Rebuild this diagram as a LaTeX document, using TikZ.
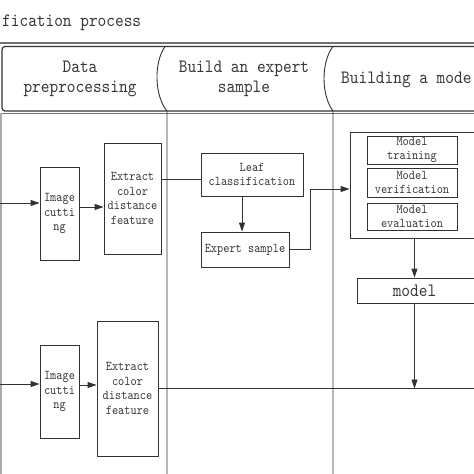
\documentclass[tikz,border=0pt]{standalone}
\usepackage{fontspec}
\usepackage{tikz}
\usetikzlibrary{arrows.meta, positioning, calc}
\newfontfamily\simfont{lmmono10-regular.otf}[FakeStretch=0.88]
\definecolor{linecolor}{RGB}{50, 50, 50}
\definecolor{framecolor}{RGB}{115, 115, 115}
\definecolor{textcolor}{RGB}{55, 55, 55}

\begin{document}
\begin{tikzpicture}[
    x=1pt, y=-1pt,
    stepbox/.style={draw=linecolor, line width=0.9pt, inner sep=0pt, align=center, text=textcolor, font=\simfont\fontsize{13.4}{14.8}\selectfont},
    substep/.style={stepbox, minimum width=90pt, font=\simfont\fontsize{13.4}{13.2}\selectfont},
    headtext/.style={inner sep=0pt, align=center, text=textcolor, font=\simfont\fontsize{18.8}{19.5}\selectfont},
    flow/.style={draw=linecolor, line width=0.9pt, -{Stealth[length=9pt, width=6pt, inset=0pt]}},
    link/.style={draw=linecolor, line width=0.9pt},
    lane/.style={draw=linecolor, line width=0.9pt}
]
    \useasboundingbox (0,0) rectangle (474,474);

    % Title and lane header
    \node[headtext, anchor=base west] (title) at (2,26.5) {fication process};
    \draw[framecolor, line width=2pt] (0,43) -- (474,43);
    \draw[linecolor, line width=1.2pt, rounded corners=3pt] (480,46.5) -- (2,46.5) -- (2,111) -- (480,111);
    \draw[framecolor, line width=1.2pt] (0,113.5) -- (474,113.5);
    \draw[framecolor!60, line width=2pt] (1,113) -- (1,474);

    % Lane borders
    \draw[lane] (165,46.5) .. controls (154,62) and (154,95) .. (167,111) -- (167,474);
    \draw[lane] (333,46.5) .. controls (321,62) and (321,95) .. (333,111) -- (333,474);

    \node[headtext] (preplane) at (80,79) {Data\\preprocessing};
    \node[headtext] (samplelane) at (244,79) {Build an expert\\sample};
    \node[headtext, anchor=west] (modellane) at (341,80) {Building a mode};

    % Data preprocessing
    \node[stepbox, minimum width=39pt, minimum height=93pt] (cut1) at (59.5,213.5) {Image\\cutti\\ng};
    \node[stepbox, minimum width=57pt, minimum height=111pt] (feat1) at (132.5,198.5) {Extract\\color\\distance\\feature};
    \node[stepbox, minimum width=39pt, minimum height=93pt] (cut2) at (59.5,391.5) {Image\\cutti\\ng};
    \node[stepbox, minimum width=61pt, minimum height=135pt] (feat2) at (127.5,388.5) {Extract\\color\\distance\\feature};

    % Expert sample
    \node[stepbox, minimum width=102pt, minimum height=43pt] (leaf) at (252,174.5) {Leaf\\classification};
    \node[stepbox, minimum width=88pt, minimum height=35pt] (sample) at (245,249.5) {Expert sample};

    % Model
    \node[stepbox, minimum width=140pt, minimum height=106pt] (trainbox) at (420,185) {};
    \node[substep, minimum height=28pt] (train) at (412,150) {Model\\training};
    \node[substep, minimum height=29pt] (verify) at (412,182.5) {Model\\verification};
    \node[substep, minimum height=27pt] (evaluate) at (412,216.5) {Model\\evaluation};
    \node[stepbox, minimum width=130pt, minimum height=25pt] (model) at (422,290.5) {};
    \node[headtext] (modellbl) at (414.5,290.5) {model};

    % Connections
    \coordinate (in1) at (0,203);
    \coordinate (in2) at (0,384);
    \coordinate (out2) at (474,388.5);
    \coordinate (leafin) at ([yshift=-4.5pt]leaf.west);
    \coordinate (samplein) at ([xshift=-3pt]sample.north);
    \coordinate (grpin) at ([yshift=-4pt]trainbox.west);

    \draw[flow] (in1) -- (in1 -| cut1.west);
    \draw[flow] ([yshift=6.5pt]cut1.east) -- ([yshift=6.5pt]cut1.east -| feat1.west);
    \draw[link] (feat1.east |- leafin) -- (leafin);
    \draw[flow] (samplein |- leaf.south) -- (samplein);
    \draw[flow] (sample.east) -- ++(21pt,0) |- (grpin);
    \draw[flow] (trainbox.south -| modellbl) -- (model.north -| modellbl);

    \draw[flow] (in2) -- (in2 -| cut2.west);
    \draw[flow] ([yshift=6.5pt]cut2.east) -- ([yshift=6.5pt]cut2.east -| feat2.west);
    \draw[link] (feat2.east) -- (out2);
    \draw[flow] (model.south -| modellbl) -- (out2 -| modellbl);

\end{tikzpicture}
\end{document}
